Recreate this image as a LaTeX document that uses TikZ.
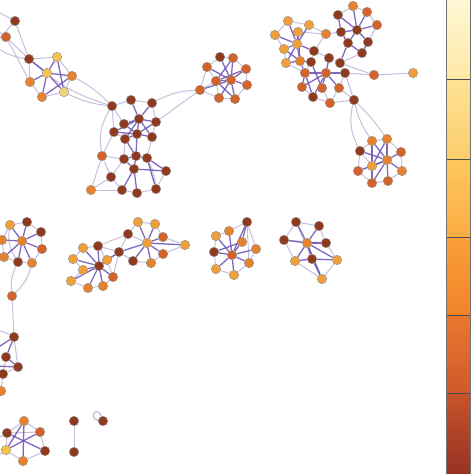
\documentclass[tikz,border=0pt]{standalone}
\pgfdeclarelayer{back}
\pgfdeclarelayer{bg}
\pgfsetlayers{back,bg,main}
\definecolor{cd}{HTML}{8E3A1E}
\definecolor{co}{HTML}{D4622A}
\definecolor{ca}{HTML}{E6822E}
\definecolor{cl}{HTML}{F0A03A}
\definecolor{cy}{HTML}{F5C24E}
\definecolor{cp}{HTML}{F2D47E}
\definecolor{lavc}{HTML}{C6C0DC}
\definecolor{purc}{HTML}{6A4DB5}
\tikzset{
  nd/.style={circle, minimum size=9.5pt, inner sep=0pt, draw=black!45, line width=0.4pt},
  lav/.style={draw=lavc, line width=1pt},
  pur/.style={draw=purc, line width=1.3pt, opacity=0.85},
  barseg/.style={draw=black!70, line width=0.6pt}
}
\begin{document}
\begin{tikzpicture}[x=1pt,y=-1pt]
\useasboundingbox (0,0) rectangle (474,474);
\begin{pgfonlayer}{back}
\fill[white] (0,0) rectangle (474,474);
\end{pgfonlayer}
% nodes
\foreach \n/\x/\y/\c in {
A1/15/21/cd, A2/6/37/co, A3/29/59/cd, A4/57/57/cy, A5/47/73/cy, A6/72/76/ca, A7/30/82/ca, A8/64/92/cp, A9/42/97/ca,
B1/112/106/cd, B2/131/100/cd, B3/152/103/cd, B4/124/124/cd, B5/139/119/cd, B6/156/122/cd, B7/114/132/cd, B8/137/134/cd, B9/125/139/cd, B10/152/137/cd,
B11/102/156/co, B12/124/159/cd, B13/136/156/cd, B14/147/158/cd, B15/134/169/cd, B16/166/171/cd, B17/111/177/cd, B18/91/190/ca, B19/122/190/cd, B20/137/193/cd, B21/156/189/cd,
C1/220/57/cd, C2/233/58/co, C3/207/67/co, C4/246/69/co, C5/216/81/co, C6/231/80/co, C7/247/85/co, C8/200/90/co, C9/219/98/co, C10/235/99/co,
D1/288/21/cl, D2/309/25/cl, D3/275/35/cl, D4/298/32/cl, D5/326/34/ca, D6/284/49/cl, D7/297/44/cl, D8/314/51/cd, D9/286/63/cl, D10/300/61/ca,
D11/311/62/cd, D12/329/58/cd, D13/340/63/cd, D14/305/73/co, D15/326/73/co, D16/345/73/cd, D17/302/87/co, D18/322/88/co, D19/339/88/co, D20/313/97/cd,
D21/330/103/co, D22/354/100/cd, D23/374/75/co, D24/413/73/cl, D25/353/6/ca, D26/338/15/cd, D27/367/12/co, D28/377/25/co, D29/341/32/cd, D30/357/30/cd,
D31/348/43/cd, D32/368/42/cd, D33/362/53/cd,
E1/372/141/ca, E2/387/139/ca, E3/360/151/cd, E4/401/152/co, E5/372/166/cl, E6/387/160/ca, E7/358/171/co, E8/402/171/ca, E9/372/183/co, E10/388/181/co,
F1/10/225/cl, F2/27/222/cd, F3/41/232/cd, F4/2/240/ca, F5/22/241/ca, F6/42/249/co, F7/4/257/ca, F8/18/262/cd, F9/32/263/ca, F10/12/296/co,
G1/14/337/cd, G2/6/357/cd, G3/18/367/cd, G4/3/374/cd, G5/1/391/ca,
H1/138/222/cl, H2/155/224/cl, H3/128/234/cd, H4/83/248/cl, H5/98/246/cd, H6/147/243/cl, H7/185/245/cl, H8/119/252/cd, H9/73/259/cl, H10/107/260/cl,
H11/163/237/co, H12/163/254/co, H13/133/261/cd, H14/99/266/cd, H15/83/270/cl, H16/151/263/ca, H17/113/277/co, H18/71/281/cl, H19/88/288/ca, H20/103/286/ca,
I1/247/222/cd, I2/229/231/ca, I3/216/236/cl, I4/242/242/ca, I5/214/252/cd, I6/256/249/ca, I7/232/255/co, I8/249/263/ca, I9/216/269/cl, I10/234/275/cl,
J1/296/222/cd, J2/319/226/cd, J3/284/240/cd, J4/307/243/ca, J5/326/243/cd, J6/295/261/cl, J7/312/259/cd, J8/337/260/cl, J9/322/279/cl,
K1/24/421/ca, K2/7/433/cd, K3/40/432/co, K4/6/450/cy, K5/45/451/cd, K6/23/461/ca,
L1/74/421/cd, L2/74/452/cd, M/103/421/cd}
  \node[nd, fill=\c] (\n) at (\x,\y) {};
\coordinate (W1) at (-6,10);
\coordinate (W2) at (-6,28);
\coordinate (W3) at (-6,45);
\coordinate (W4) at (-6,232);
\coordinate (W5) at (-6,330);
\coordinate (W6) at (-6,350);
\coordinate (W7) at (-6,366);
\coordinate (W8) at (-6,440);
\coordinate (W9) at (-6,458);
\begin{pgfonlayer}{bg}
% lavender edges
\foreach \a/\b in {
W1/A1, W2/A2, W3/A1, A1/A3, A2/A3, A2/A7, A3/A4, A3/A7, A4/A6, A6/A8, A7/A9, A9/A8,
B1/B2, B2/B3, B1/B4, B1/B7, B3/B6, B6/B10, B7/B9, B9/B12, B10/B14, B11/B7, B11/B12, B11/B17, B11/B18, B18/B17, B18/B19, B17/B19, B19/B20, B20/B21, B16/B21, B12/B17, B6/C8,
C1/C2, C1/C3, C3/C5, C3/C8, C2/C4, C4/C7, C7/C10, C9/C10, C8/C9, C5/C9, C8/C5,
D1/D2, D1/D3, D3/D6, D6/D9, D2/D5, D5/D8, D5/D29, D8/D11, D8/D12, D12/D13, D13/D16, D16/D19, D19/D21, D21/D18, D20/D21, D17/D20, D9/D14, D16/D23, D23/D24, D16/D22, D13/D23, D22/D21, D22/D19, D28/D32, D32/D33, D27/D28, D25/D27, D26/D25, D33/D13, D4/D5, D11/D14,
E1/E2, E1/E3, E2/E4, E4/E8, E3/E7, E7/E9, E9/E10, E10/E8, E3/E5, E5/E7,
W4/F4, F1/F2, F2/F3, F3/F6, F6/F9, F9/F8, F8/F7, F7/F4, F4/F1, F10/G1, G1/G3, G2/G4, G3/G4, G4/G5,
H1/H2, H1/H3, H2/H11, H11/H7, H12/H7, H12/H16, H16/H13, H3/H8, H8/H13, H3/H5, H5/H8, H8/H10, H4/H5, H4/H9, H9/H15, H15/H18, H18/H19, H19/H20, H20/H17, H17/H10, H5/H10, H8/H17, H3/H6,
I1/I2, I2/I3, I3/I5, I5/I9, I9/I10, I10/I8, I8/I6, I6/I1, I1/I8,
J1/J2, J1/J3, J2/J5, J5/J8, J3/J6, J6/J9, J8/J9, J1/J7, J3/J5,
K1/K2, K1/K3, K3/K5, K5/K6, K6/K4, K4/K2, K2/K3, W8/K2, W9/K4, L1/L2}
  \draw[lav] (\a) -- (\b);
% curved long lavender edges
\draw[lav] (A3) to[bend right=12] (B1);
\draw[lav] (A8) to[bend right=10] (B1);
\draw[lav] (A6) to[bend left=8] (B1);
\draw[lav] (W3) to[bend right=15] (A3);
\draw[lav] (B3) to[bend left=12] (C8);
\draw[lav] (B1) to[bend right=20] (B11);
\draw[lav] (D22) to[bend right=10] (E1);
\draw[lav] (D22) to[bend right=20] (E3);
\draw[lav] (D22) to[bend left=5] (E2);
\draw[lav] (F8) to[bend right=15] (F10);
\draw[lav] (F9) to[bend left=15] (F10);
\draw[lav] (F1) to[bend right=20] (F8);
\draw[lav] (W5) to[bend left=10] (G1);
\draw[lav] (B14) to[bend left=10] (B21);
\draw[lav, line width=1.4pt] (M.110) .. controls +(-3pt,11pt) and +(-11pt,4pt) .. (M.175);
% purple edges
\foreach \a/\b in {
A3/A5, A5/A4, A5/A6, A5/A8, A5/A9, A5/A7, A4/A8, A6/A9,
B5/B2, B5/B4, B5/B6, B5/B8, B5/B7, B5/B9, B5/B10, B5/B3, B8/B4, B8/B7, B8/B9, B8/B10, B8/B6, B8/B13,
B13/B12, B13/B14, B13/B15, B15/B16, B15/B19, B15/B20, B14/B16, B14/B21, B12/B15, B13/B9,
C6/C1, C6/C2, C6/C3, C6/C4, C6/C5, C6/C7, C6/C9, C6/C10, C6/C8, C5/C2, C5/C4, C5/C10,
D7/D1, D7/D2, D7/D3, D7/D4, D7/D6, D7/D9, D7/D10, D7/D8, D10/D6, D10/D9, D10/D11, D10/D14, D4/D10,
D15/D14, D15/D17, D15/D18, D15/D19, D15/D20, D15/D12, D15/D16, D18/D11, D14/D17, D14/D20,
D30/D25, D30/D26, D30/D27, D30/D28, D30/D29, D30/D31, D30/D32, D31/D29, D31/D33, D31/D13, D29/D26, D33/D32,
E6/E1, E6/E2, E6/E3, E6/E4, E6/E5, E6/E7, E6/E8, E6/E9, E6/E10, E5/E1, E5/E2, E5/E9,
F5/F1, F5/F2, F5/F3, F5/F4, F5/F6, F5/F7, F5/F8, F5/F9,
G1/G2, G2/G3, W6/G1, W7/G3,
H6/H1, H6/H2, H6/H11, H6/H12, H6/H13, H6/H16, H6/H7, H6/H8,
H14/H4, H14/H5, H14/H9, H14/H10, H14/H15, H14/H17, H14/H18, H14/H19, H14/H20, H14/H8,
I7/I1, I7/I2, I7/I3, I7/I4, I7/I5, I7/I6, I7/I8, I7/I9, I7/I10, I4/I1, I4/I5,
J4/J1, J4/J2, J4/J3, J4/J5, J4/J6, J4/J7, J4/J8, J4/J9, J7/J6, J7/J8, J7/J9,
K1/K6, K2/K5, K3/K4, K1/K4}
  \draw[pur] (\a) -- (\b);
\end{pgfonlayer}
% colour bar
\shade[top color={rgb,255:red,255;green,248;blue,214}, bottom color={rgb,255:red,253;green,232;blue,165}] (446,0) rectangle (470,79);
\shade[top color={rgb,255:red,253;green,226;blue,150}, bottom color={rgb,255:red,252;green,205;blue,106}] (446,79) rectangle (470,159);
\shade[top color={rgb,255:red,253;green,200;blue,94}, bottom color={rgb,255:red,251;green,172;blue,68}] (446,159) rectangle (470,237);
\shade[top color={rgb,255:red,250;green,160;blue,58}, bottom color={rgb,255:red,240;green,130;blue,40}] (446,237) rectangle (470,315);
\shade[top color={rgb,255:red,232;green,120;blue,46}, bottom color={rgb,255:red,207;green,90;blue,42}] (446,315) rectangle (470,393);
\shade[top color={rgb,255:red,200;green,84;blue,43}, bottom color={rgb,255:red,150;green,50;blue,34}] (446,393) rectangle (470,474);
\coordinate (cb1) at (446,79); \coordinate (cb1r) at (470,79);
\coordinate (cb2) at (446,159); \coordinate (cb2r) at (470,159);
\coordinate (cb3) at (446,237); \coordinate (cb3r) at (470,237);
\coordinate (cb4) at (446,315); \coordinate (cb4r) at (470,315);
\coordinate (cb5) at (446,393); \coordinate (cb5r) at (470,393);
\foreach \p in {1,...,5} \draw[barseg] (cb\p) -- (cb\p r);
\draw[draw=black!55, line width=0.6pt] (446,-1) rectangle (470,475);
\end{tikzpicture}
\end{document}
